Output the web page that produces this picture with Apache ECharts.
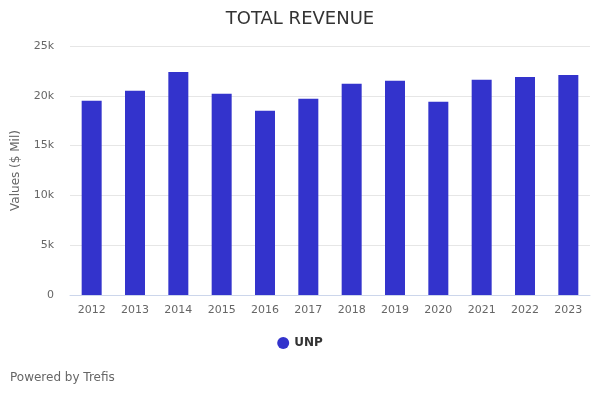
<!DOCTYPE html>
<html>
<head>
<meta charset="utf-8">
<title>Total Revenue</title>
<script src="https://cdn.jsdelivr.net/npm/echarts@6/dist/echarts.min.js"></script>
<style>
  * { margin: 0; padding: 0 }
  html, body { width: 100%; height: 100%; background: #fff; }
  #main { width: 600px; height: 400px; }
</style>
</head>
<body>
<div id="main"></div>
<script>
  // values, $ Mil
  var years = ['2012', '2013', '2014', '2015', '2016', '2017', '2018', '2019', '2020', '2021', '2022', '2023'];
  var unp = [19500, 20500, 22400, 20200, 18500, 19700, 21200, 21500, 19400, 21600, 21900, 22100];

  var chart = echarts.init(document.getElementById('main'));
  chart.setOption({
    textStyle: { fontFamily: 'DejaVu Sans' },
    title: {
      text: 'TOTAL REVENUE',
      left: 'center',
      top: 5,
      textStyle: { fontSize: 18, fontWeight: 'normal', color: '#333' }
    },
    legend: {
      data: ['UNP'],
      bottom: 46,
      left: 'center',
      icon: 'circle',
      itemWidth: 12,
      itemHeight: 12,
      itemGap: 8,
      textStyle: { fontWeight: 'bold', fontSize: 12, color: '#333' }
    },
    graphic: [{
      type: 'text',
      left: 10,
      top: 372,
      style: { text: 'Powered by Trefis', fontSize: 12, fill: '#666', fontFamily: 'DejaVu Sans' }
    }],
    grid: { left: 70, right: 10, top: 46, bottom: 105 },
    xAxis: {
      type: 'category',
      data: years,
      axisTick: { show: false },
      axisLine: { lineStyle: { color: '#ccd6eb' } },
      axisLabel: { color: '#666', fontSize: 11, margin: 10 }
    },
    yAxis: {
      type: 'value',
      min: 0,
      max: 25000,
      interval: 5000,
      name: 'Values ($ Mil)',
      nameLocation: 'middle',
      nameGap: 48,
      nameTextStyle: { color: '#666', fontSize: 12 },
      axisLabel: {
        color: '#666',
        fontSize: 11,
        margin: 16,
        formatter: function (v) { return v === 0 ? '0' : (v / 1000) + 'k'; }
      },
      splitLine: { lineStyle: { color: '#e6e6e6' } }
    },
    series: [{
      name: 'UNP',
      type: 'bar',
      data: unp,
      barWidth: 20,
      itemStyle: { color: '#3333cc' }
    }]
  });
</script>
</body>
</html>
